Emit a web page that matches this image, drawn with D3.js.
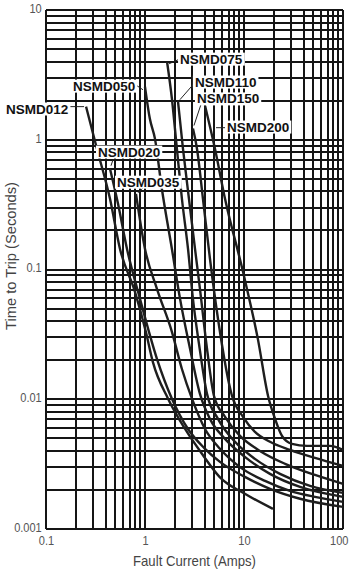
<!DOCTYPE html>
<html>
<head>
<meta charset="utf-8">
<script src="https://cdn.jsdelivr.net/npm/d3@7"></script>
<style>
  body { margin: 0; background: #fff; }
  svg { display: block; }
  .tick text { font-family: "Liberation Sans Narrow", "Arial Narrow", "Liberation Sans", Arial, sans-serif; }
</style>
</head>
<body>
<div id="container"></div>
<script>
/* CONSTANTS AND GLOBALS */
const width = 353,
  height = 571,
  margin = { top: 10, right: 10, bottom: 42, left: 46 };

/* DATA  (fault current in A, time to trip in s) */
const xTickValues = [0.1, 1, 10, 100];
const xTickLabels = ["0.1", "1", "10", "100"];
const yTickValues = [0.001, 0.01, 0.1, 1, 10];
const yTickLabels = ["0.001", "0.01", "0.1", "1", "10"];

const deviceNames = ["NSMD012", "NSMD020", "NSMD035", "NSMD050", "NSMD075", "NSMD110", "NSMD150", "NSMD200"];

const curve012 = [[0.254, 1.80], [0.327, 0.852], [0.443, 0.351], [0.559, 0.144], [0.792, 0.0673], [1.02, 0.0331], [1.20, 0.0194], [1.71, 0.0101], [2.54, 0.0059], [3.76, 0.0038], [5.72, 0.0025], [10.2, 0.00187], [19.6, 0.00143]];
const curve020 = [[0.443, 0.598], [0.534, 0.321], [0.658, 0.144], [0.890, 0.0594], [1.32, 0.0205], [1.87, 0.0101], [2.72, 0.0059], [4.04, 0.00415], [5.72, 0.00329], [10.2, 0.00252], [18.3, 0.00204], [36.8, 0.00171], [100, 0.00148]];
const curve035 = [[0.811, 0.383], [1.0, 0.144], [1.32, 0.0710], [1.87, 0.0331], [2.36, 0.0171], [2.98, 0.0101], [4.04, 0.0059], [5.72, 0.00415], [9.11, 0.0030], [16.3, 0.00235], [29.1, 0.00197], [52.1, 0.00177], [100, 0.00162]];
const curve050 = [[1.0, 2.56], [1.12, 1.45], [1.26, 1.02], [1.48, 0.419], [1.87, 0.144], [2.26, 0.0594], [2.85, 0.0245], [3.59, 0.0110], [4.53, 0.00706], [6.43, 0.00495], [10.2, 0.00360], [18.3, 0.00266], [36.8, 0.00211], [100, 0.00177]];
const curve075 = [[1.67, 3.99], [1.87, 2.07], [2.10, 0.852], [2.36, 0.351], [2.72, 0.144], [3.05, 0.0594], [3.51, 0.0267], [4.23, 0.0110], [5.46, 0.00706], [8.11, 0.00470], [12.9, 0.00347], [23.1, 0.00266], [46.4, 0.00215], [100, 0.00190]];
const curve110 = [[2.15, 2.00], [2.42, 0.852], [2.78, 0.351], [3.20, 0.144], [3.59, 0.0710], [4.23, 0.0245], [4.98, 0.0106], [6.43, 0.00732], [9.11, 0.00522], [14.5, 0.00400], [26.0, 0.00318], [52.1, 0.00261], [100, 0.00223]];
const curve150 = [[3.05, 1.22], [3.35, 0.852], [3.85, 0.351], [4.53, 0.121], [5.46, 0.0417], [7.57, 0.0106], [9.77, 0.00732], [12.9, 0.00561], [18.3, 0.00470], [29.1, 0.00407], [52.1, 0.00353], [100, 0.00306]];
const curve200 = [[4.04, 1.83], [5.09, 0.852], [6.43, 0.351], [9.77, 0.0960], [13.8, 0.0292], [17.5, 0.0106], [20.6, 0.00706], [24.2, 0.00522], [30.5, 0.00453], [43.3, 0.00437], [73.9, 0.00437], [100, 0.00407]];

const curves = [curve012, curve020, curve035, curve050, curve075, curve110, curve150, curve200];

// label placement in px, relative to first point of each curve
// t = text start/centre, a->b = leader line
const labelLayout = [
  { tx: -80, ty: 2,   ax: -16, ay: 0,   bx: -2, by: 0 },
  { tx: -12, ty: -17, ax: 3,   ay: -9,  bx: 1,  by: -3 },
  { tx: -19, ty: -12, ax: 7,   ay: -6,  bx: 2,  by: -1 },
  { tx: -72, ty: -1,  ax: -8,  ay: -1,  bx: -2, by: 3 },
  { tx: 13,  ty: -3,  ax: 11,  ay: -2,  bx: 2,  by: 2 },
  { tx: 17,  ty: -19, ax: 16,  ay: -17, bx: 2,  by: -1 },
  { tx: 4,   ty: -30, ax: 8,   ay: -24, bx: 1,  by: -3 },
  { tx: 22,  ty: 21,  ax: 11,  ay: 22,  bx: 20, by: 22 }
];

/* SCALES */
const xScale = d3.scaleLog()
  .domain([0.1, 100])
  .range([margin.left, width - margin.right]);

const yScale = d3.scaleLog()
  .domain([0.001, 10])
  .range([height - margin.bottom, margin.top]);

/* SVG */
const svg = d3.select("#container")
  .append("svg")
  .attr("width", width)
  .attr("height", height);

// GRID (1..9 per decade)
const grid = svg.append("g")
  .attr("stroke", "#151515")
  .attr("stroke-width", 1.4)
  .attr("shape-rendering", "crispEdges");

grid.selectAll("line.v")
  .data(xScale.ticks())
  .join("line")
  .attr("class", "v")
  .attr("x1", d => Math.round(xScale(d)))
  .attr("x2", d => Math.round(xScale(d)))
  .attr("y1", yScale(10))
  .attr("y2", yScale(0.001));

grid.selectAll("line.h")
  .data(yScale.ticks())
  .join("line")
  .attr("class", "h")
  .attr("y1", d => Math.round(yScale(d)))
  .attr("y2", d => Math.round(yScale(d)))
  .attr("x1", xScale(0.1))
  .attr("x2", xScale(100));

// AXES (labels only)
const xAxis = d3.axisBottom(xScale)
  .tickValues(xTickValues)
  .tickFormat((d, i) => xTickLabels[i])
  .tickSize(0)
  .tickPadding(7);

const yAxis = d3.axisLeft(yScale)
  .tickValues(yTickValues)
  .tickFormat((d, i) => yTickLabels[i])
  .tickSize(0)
  .tickPadding(5);

const gx = svg.append("g")
  .attr("transform", `translate(0,${height - margin.bottom})`)
  .call(xAxis);
gx.select(".domain").remove();
gx.selectAll("text").attr("font-size", 13).attr("fill", "#555")
  .attr("dx", d => d === 100 ? -5 : 0)
  .attr("transform", "scale(0.85,1)");

const gy = svg.append("g")
  .attr("transform", `translate(${margin.left},0)`)
  .call(yAxis);
gy.select(".domain").remove();
gy.selectAll("text").attr("font-size", 13).attr("fill", "#555").attr("dy", "0.18em")
  .attr("transform", "scale(0.85,1)");

// AXIS TITLES
svg.append("text")
  .attr("x", (xScale(0.1) + xScale(100)) / 2)
  .attr("y", 566)
  .attr("text-anchor", "middle")
  .attr("font-family", "'Liberation Sans Narrow', 'Liberation Sans', Arial, sans-serif")
  .attr("font-size", 15)
  .attr("fill", "#444")
  .attr("textLength", 123)
  .attr("lengthAdjust", "spacingAndGlyphs")
  .text("Fault Current  (Amps)");

svg.append("text")
  .attr("transform", `translate(16,256) rotate(-90)`)
  .attr("text-anchor", "middle")
  .attr("font-family", "'Liberation Sans Narrow', 'Liberation Sans', Arial, sans-serif")
  .attr("font-size", 15)
  .attr("fill", "#444")
  .attr("textLength", 148)
  .attr("lengthAdjust", "spacingAndGlyphs")
  .text("Time to Trip (Seconds)");

// LINE GENERATOR
const lineGen = d3.line()
  .x(d => xScale(d[0]))
  .y(d => yScale(d[1]))
  .curve(d3.curveMonotoneX);

svg.selectAll("path.curve")
  .data(curves)
  .join("path")
  .attr("class", "curve")
  .attr("fill", "none")
  .attr("stroke", "#1e1e1e")
  .attr("stroke-width", 2.4)
  .attr("stroke-linejoin", "round")
  .attr("d", d => lineGen(d));

// LABELS
const labels = svg.selectAll("g.label")
  .data(deviceNames)
  .join("g")
  .attr("class", "label")
  .attr("transform", (d, i) => `translate(${xScale(curves[i][0][0])},${yScale(curves[i][0][1])})`);

labels.append("line")
  .attr("x1", (d, i) => labelLayout[i].ax)
  .attr("y1", (d, i) => labelLayout[i].ay)
  .attr("x2", (d, i) => labelLayout[i].bx)
  .attr("y2", (d, i) => labelLayout[i].by)
  .attr("stroke", "#222")
  .attr("stroke-width", 1);

const labelText = labels.append("text")
  .attr("x", (d, i) => labelLayout[i].tx)
  .attr("y", (d, i) => labelLayout[i].ty)
  .attr("dy", "0.36em")
  .attr("font-family", "'Liberation Sans', Arial, sans-serif")
  .attr("font-weight", "bold")
  .attr("font-size", 13.5)
  .attr("fill", "#111")
  .text(d => d);

labelText.each(function (d, i) {
  const bb = this.getBBox();
  d3.select(this.parentNode)
    .insert("rect", "text")
    .attr("x", bb.x - 2)
    .attr("y", bb.y + 1)
    .attr("width", bb.width + 4)
    .attr("height", bb.height - 2)
    .attr("fill", "#fff");
});
</script>
</body>
</html>
